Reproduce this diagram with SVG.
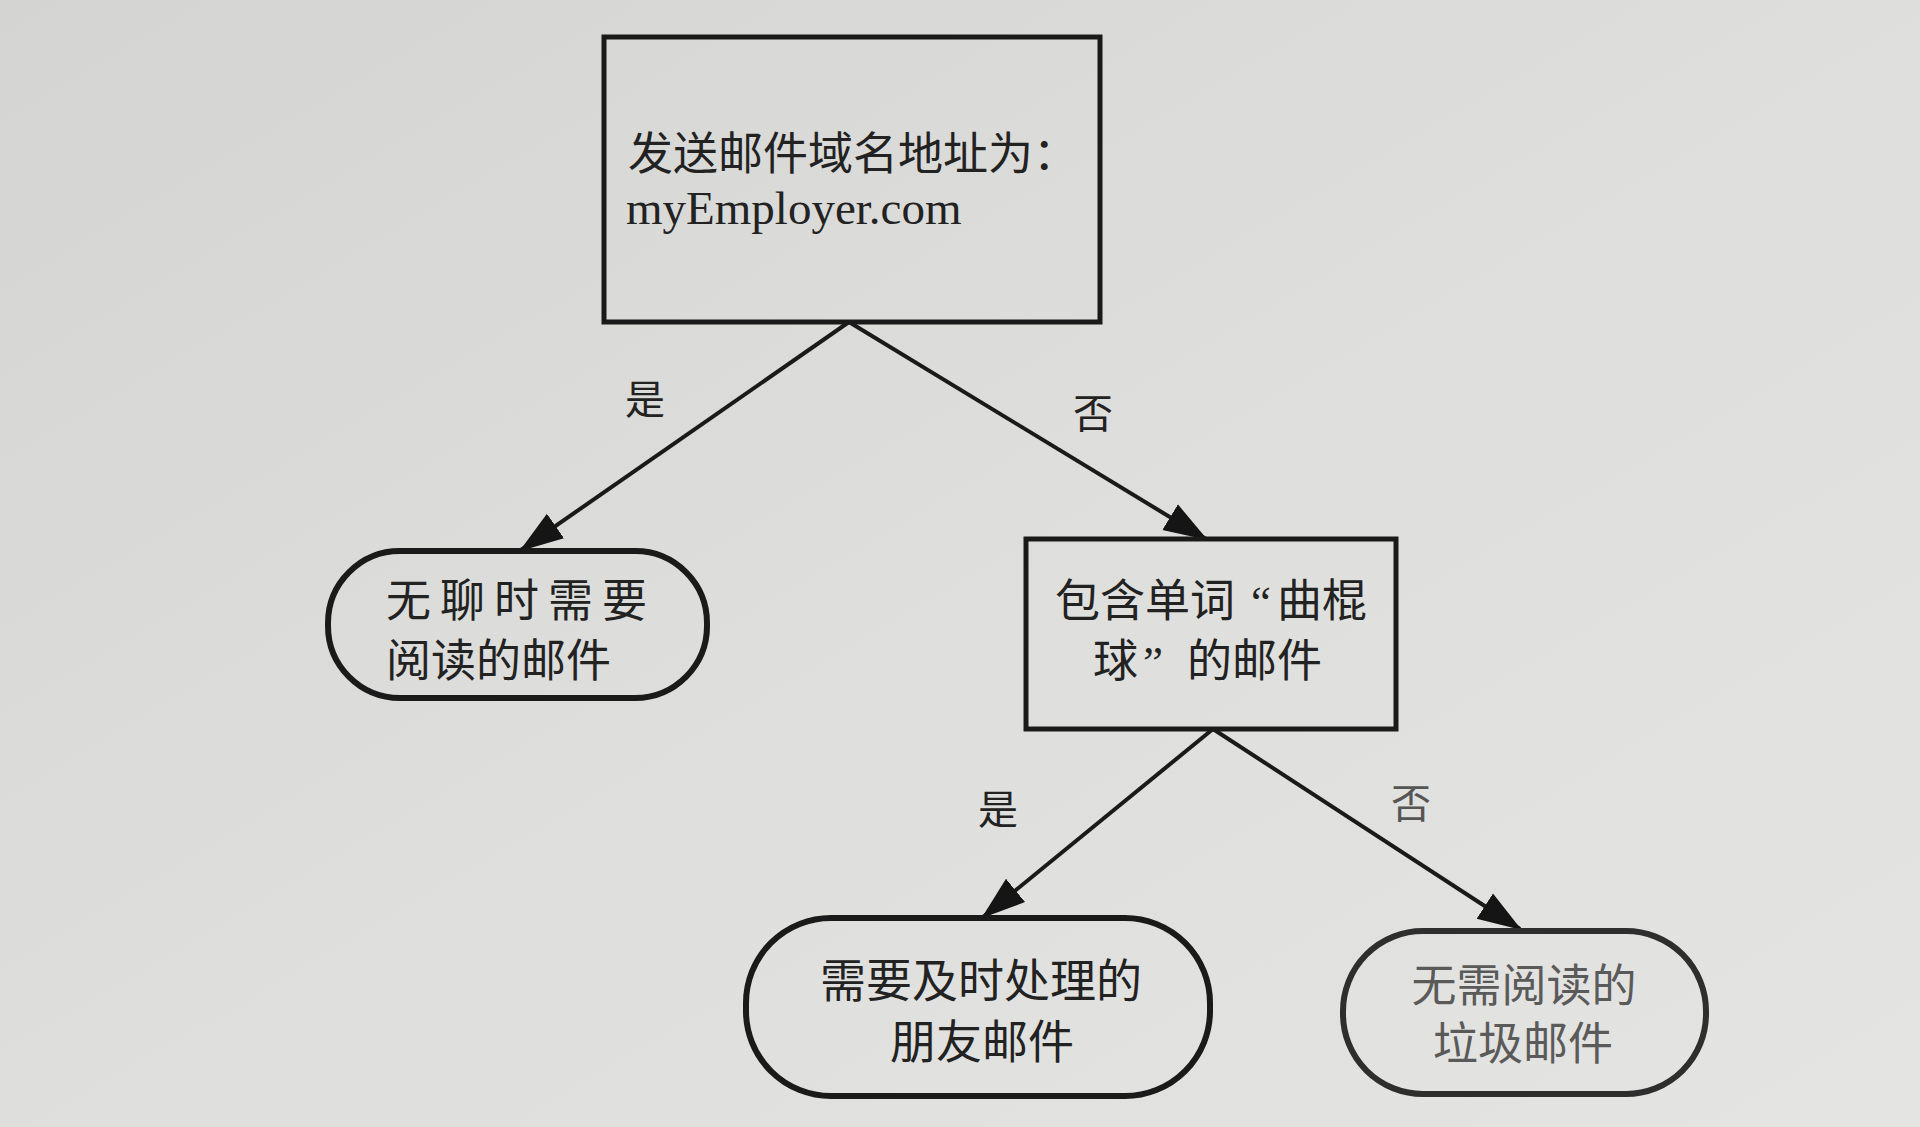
<svg xmlns="http://www.w3.org/2000/svg" width="1920" height="1127" viewBox="0 0 1920 1127">
<defs>
<linearGradient id="bg" x1="0" y1="0" x2="1" y2="1">
<stop offset="0" stop-color="#d4d4d2"/>
<stop offset="0.5" stop-color="#dededc"/>
<stop offset="1" stop-color="#e4e4e2"/>
</linearGradient>
<marker id="arr" markerUnits="userSpaceOnUse" markerWidth="44" markerHeight="34" viewBox="0 0 44 34" refX="42" refY="17" orient="auto">
<path d="M0,2 L44,17 L0,32 Z" fill="#151515"/>
</marker>
<style>
.box{fill:none;stroke:#1a1a1a;stroke-width:5}
.pill{fill:none;stroke:#1a1a1a;stroke-width:6}
.edge{stroke:#1a1a1a;stroke-width:4;fill:none}
.t{font-family:"Liberation Serif","Noto Sans CJK SC",serif;font-size:45px;fill:#222}
.lbl{font-family:"Liberation Serif","Noto Sans CJK SC",serif;font-size:40px;fill:#222;text-anchor:middle}
</style>
</defs>
<rect width="1920" height="1127" fill="url(#bg)"/>
<g id="connectors">
<line class="edge" x1="849" y1="322" x2="521" y2="550" marker-end="url(#arr)"/>
<line class="edge" x1="849" y1="322" x2="1206" y2="539" marker-end="url(#arr)"/>
<line class="edge" x1="1213" y1="729" x2="983" y2="917" marker-end="url(#arr)"/>
<line class="edge" x1="1213" y1="729" x2="1520" y2="929" marker-end="url(#arr)"/>
<text class="lbl" x="645" y="414">是</text>
<text class="lbl" x="1093" y="428">否</text>
<text class="lbl" x="998" y="824">是</text>
<text class="lbl" x="1411" y="818" style="fill:#555">否</text>
</g>
<g id="root">
<rect class="box" x="604" y="37" width="496" height="285"/>
<text class="t" x="628" y="170">发送邮件域名地址为：</text>
<text class="t" x="626" y="224" style="font-size:47px">myEmployer.com</text>
</g>
<g id="leaf-boring">
<rect class="pill" x="328" y="551" width="379" height="147" rx="72" ry="72"/>
<text class="t" x="386" y="617" letter-spacing="9">无聊时需要</text>
<text class="t" x="386" y="677">阅读的邮件</text>
</g>
<g id="hockey">
<rect class="box" x="1026" y="539" width="370" height="190"/>
<text class="t" x="1055" y="617">包含单词<tspan dx="16">“</tspan><tspan dx="6">曲棍</tspan></text>
<text class="t" x="1093" y="677">球<tspan dx="5">”</tspan><tspan dx="24">的邮件</tspan></text>
</g>
<g id="leaf-friends">
<rect class="pill" x="746" y="918" width="464" height="178" rx="85" ry="85"/>
<text class="t" x="981" y="997" text-anchor="middle" style="font-size:46px">需要及时处理的</text>
<text class="t" x="982" y="1058" text-anchor="middle" style="font-size:46px">朋友邮件</text>
</g>
<g id="leaf-spam">
<rect class="pill" x="1343" y="931" width="363" height="163" rx="80" ry="80" style="stroke:#2e2e2e"/>
<text class="t" x="1524" y="1002" text-anchor="middle" style="fill:#5a5a5a">无需阅读的</text>
<text class="t" x="1523" y="1060" text-anchor="middle" style="fill:#5a5a5a">垃圾邮件</text>
</g>
</svg>
